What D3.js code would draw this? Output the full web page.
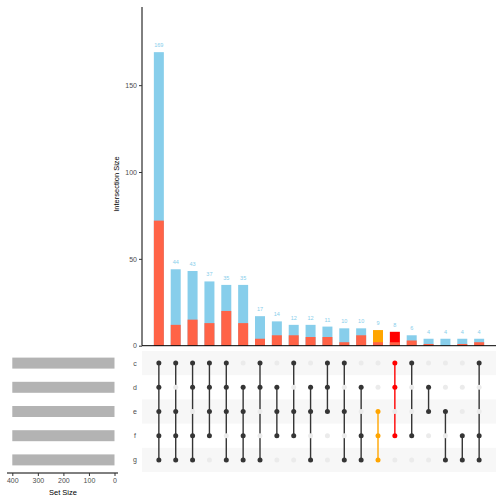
<!DOCTYPE html>
<html>
<head>
<meta charset="utf-8">
<script src="https://cdn.jsdelivr.net/npm/d3@7"></script>
<style>
  body { margin: 0; background: #fff; }
  svg { font-family: "Liberation Sans", Arial, sans-serif; }
</style>
</head>
<body>
<div id="chart"></div>
<script>
// sets, top to bottom in the matrix
var sets = ["c", "d", "e", "f", "g"];
var setSizes = [400, 400, 400, 400, 400];

// intersections, ordered by size
var members = [
  "c d e f g", "c e f g", "c d f g", "c d e f", "c d e g",
  "d e f g", "c d g", "d e f", "c e f", "d e g",
  "c d e", "c e g", "d f g", "e f g", "c d f",
  "c f", "d e", "e g", "f g", "c f g"
];
var totals = [169, 44, 43, 37, 35, 35, 17, 14, 12, 12, 11, 10, 10, 9, 8, 6, 4, 4, 4, 4];
var lowerPart = [72, 12, 15, 13, 20, 13, 4, 6, 6, 5, 5, 2, 6, 2, 2, 3, 1, 0, 1, 2];
var highlight = [null, null, null, null, null, null, null, null, null, null,
                 null, null, null, "orange", "red", null, null, null, null, null];

var yTicks = [0, 50, 100, 150];
var setTicks = [400, 300, 200, 100, 0];

var W = 504, H = 504;
var svg = d3.select("#chart").append("svg")
    .attr("width", W)
    .attr("height", H);

var ids = d3.range(totals.length);

var x = d3.scalePoint().domain(ids).range([142, 496]).padding(1);
var y = d3.scaleLinear().domain([0, 195]).range([345.7, 7]);
var row = d3.scaleBand().domain(sets).range([351, 472]);
var xs = d3.scaleLinear().domain([0, 400]).range([114.5, 12.3]);

var barW = 10;

/* intersection bars */
var bars = svg.append("g");
bars.selectAll("rect.total")
    .data(ids)
    .enter().append("rect")
    .attr("x", function(i){ return x(i) - barW / 2; })
    .attr("width", barW)
    .attr("y", function(i){ return y(totals[i]); })
    .attr("height", function(i){ return y(0) - y(totals[i]); })
    .style("fill", function(i){ return highlight[i] || "#87CEEB"; });

bars.selectAll("rect.lower")
    .data(ids)
    .enter().append("rect")
    .attr("x", function(i){ return x(i) - barW / 2; })
    .attr("width", barW)
    .attr("y", function(i){ return y(lowerPart[i]); })
    .attr("height", function(i){ return y(0) - y(lowerPart[i]); })
    .style("fill", "#FF6347");

bars.selectAll("text")
    .data(ids)
    .enter().append("text")
    .attr("x", function(i){ return x(i); })
    .attr("y", function(i){ return y(totals[i]) - 5; })
    .attr("text-anchor", "middle")
    .style("font-size", "5.5px")
    .style("fill", "#87CEEB")
    .text(function(i){ return totals[i]; });

/* y axis */
var yAxis = svg.append("g")
    .attr("transform", "translate(142,0)")
    .call(d3.axisLeft(y).tickValues(yTicks).tickSize(3).tickPadding(2));
yAxis.select(".domain").attr("d", "M0," + y(0) + "V7").style("stroke", "#000");
yAxis.selectAll(".tick line").style("stroke", "#333");
yAxis.selectAll(".tick text").style("font-size", "7px").style("fill", "#4D4D4D")
    .style("font-family", "Liberation Sans, Arial, sans-serif");

svg.append("line")
    .attr("x1", 142).attr("x2", 496)
    .attr("y1", y(0)).attr("y2", y(0))
    .style("stroke", "#000");

svg.append("text")
    .attr("transform", "translate(119,184) rotate(-90)")
    .attr("text-anchor", "middle")
    .style("font-size", "7.5px")
    .style("fill", "#000")
    .text("Intersection Size");

/* matrix */
var matrix = svg.append("g");
matrix.selectAll("rect")
    .data(sets.filter(function(s, k){ return k % 2 === 0; }))
    .enter().append("rect")
    .attr("x", 142)
    .attr("width", 354)
    .attr("y", function(s){ return row(s); })
    .attr("height", row.bandwidth())
    .style("fill", "#F7F7F7");

var rowY = function(s){ return row(s) + row.bandwidth() / 2; };

ids.forEach(function(i){
  var on = members[i].split(" ");
  var col = highlight[i] || "#353535";
  var ys = on.map(rowY);
  matrix.append("line")
      .attr("x1", x(i)).attr("x2", x(i))
      .attr("y1", d3.min(ys)).attr("y2", d3.max(ys))
      .style("stroke", col)
      .style("stroke-width", 1.4);
  matrix.selectAll(null)
      .data(sets)
      .enter().append("circle")
      .attr("cx", x(i))
      .attr("cy", rowY)
      .attr("r", 2.5)
      .style("fill", function(s){ return on.indexOf(s) >= 0 ? col : "#EBEBEB"; });
});

svg.selectAll("text.setname")
    .data(sets)
    .enter().append("text")
    .attr("x", 135)
    .attr("y", function(s){ return rowY(s) + 2.5; })
    .attr("text-anchor", "middle")
    .style("font-size", "7px")
    .style("fill", "#4D4D4D")
    .text(function(s){ return s; });

/* set size bars */
svg.append("g").selectAll("rect")
    .data(sets)
    .enter().append("rect")
    .attr("x", function(s, k){ return xs(setSizes[k]); })
    .attr("width", function(s, k){ return xs(0) - xs(setSizes[k]); })
    .attr("y", function(s){ return rowY(s) - 5.5; })
    .attr("height", 11)
    .style("fill", "#B3B3B3");

var sAxis = svg.append("g")
    .attr("transform", "translate(0,473)")
    .call(d3.axisBottom(xs).tickValues(setTicks).tickSize(3).tickPadding(2));
sAxis.select(".domain").attr("d", "M7,0H118").style("stroke", "#000");
sAxis.selectAll(".tick line").style("stroke", "#333");
sAxis.selectAll(".tick text").style("font-size", "7px").style("fill", "#4D4D4D")
    .style("font-family", "Liberation Sans, Arial, sans-serif");

svg.append("text")
    .attr("x", 63)
    .attr("y", 495)
    .attr("text-anchor", "middle")
    .style("font-size", "7.5px")
    .style("fill", "#000")
    .text("Set Size");
</script>
</body>
</html>
